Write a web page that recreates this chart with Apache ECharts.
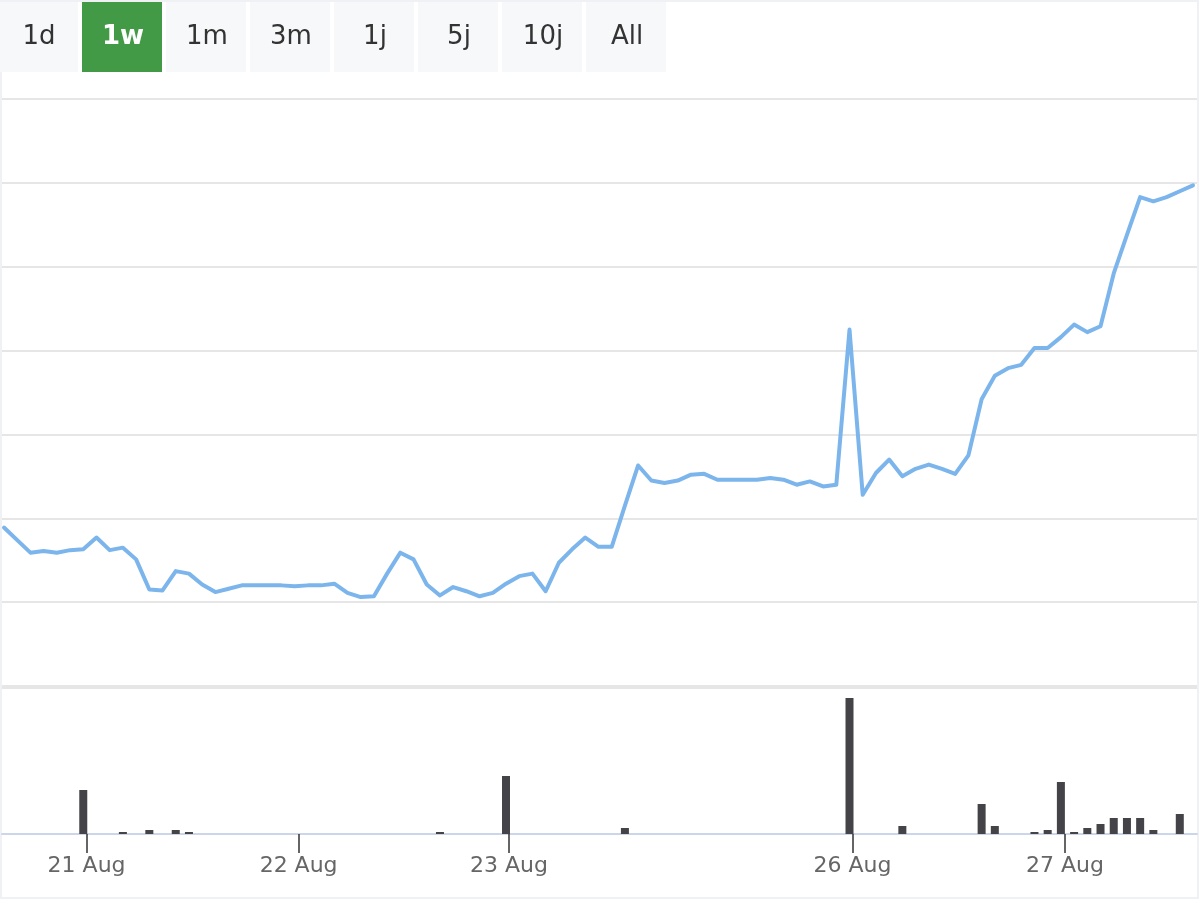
<!DOCTYPE html>
<html>
<head>
<meta charset="utf-8">
<script src="https://cdn.jsdelivr.net/npm/echarts@6/dist/echarts.min.js"></script>
<style>
html,body{margin:0;padding:0;background:#fff;}
#chart{width:1200px;height:900px;}
</style>
</head>
<body>
<div id="chart"></div>
<script>
// Range selector buttons
const buttonLabels = ['1d', '1w', '1m', '3m', '1j', '5j', '10j', 'All'];
const activeButton = '1w';

// Ordinal x axis: one slot per data point (index 0..90); day labels sit between points
const tickPositions = [6.25, 22.3, 38.22, 64.23, 80.31];
const tickLabels = ['21 Aug', '22 Aug', '23 Aug', '26 Aug', '27 Aug'];

// Price (relative units; one gridline step = 1)
const prices = [
  1.89, 1.74, 1.59, 1.61, 1.59, 1.62, 1.63, 1.77, 1.62, 1.65,
  1.51, 1.15, 1.14, 1.37, 1.34, 1.21, 1.12, 1.16, 1.20, 1.20,
  1.20, 1.20, 1.19, 1.20, 1.20, 1.22, 1.11, 1.06, 1.07, 1.34,
  1.59, 1.51, 1.21, 1.08, 1.18, 1.13, 1.07, 1.11, 1.22, 1.31,
  1.34, 1.13, 1.47, 1.63, 1.77, 1.66, 1.66, 2.15, 2.63, 2.45,
  2.42, 2.45, 2.52, 2.53, 2.46, 2.46, 2.46, 2.46, 2.48, 2.46,
  2.40, 2.44, 2.38, 2.40, 4.25, 2.28, 2.54, 2.70, 2.50, 2.59,
  2.64, 2.59, 2.53, 2.75, 3.42, 3.70, 3.79, 3.83, 4.03, 4.03,
  4.16, 4.31, 4.22, 4.29, 4.92, 5.38, 5.83, 5.78, 5.83, 5.90,
  5.97
];

// Volume (relative units)
const volumes = [
  0, 0, 0, 0, 0, 0, 44, 0, 0, 2,
  0, 4, 0, 4, 2, 0, 0, 0, 0, 0,
  0, 0, 0, 0, 0, 0, 0, 0, 0, 0,
  0, 0, 0, 2, 0, 0, 0, 0, 58, 0,
  0, 0, 0, 0, 0, 0, 0, 6, 0, 0,
  0, 0, 0, 0, 0, 0, 0, 0, 0, 0,
  0, 0, 0, 0, 136, 0, 0, 0, 8, 0,
  0, 0, 0, 0, 30, 8, 0, 0, 2, 4,
  52, 2, 6, 10, 16, 16, 16, 4, 0, 20,
  0
];

const priceData = prices.map((v, i) => [i, v]);
const volumeData = volumes.map((v, i) => [i, v]).filter(d => d[1] > 0);

const xMin = -0.1514, xMax = 90.303;

const graphics = [
  {
    type: 'rect', z: 0,
    shape: { x: 1, y: 1, width: 1197, height: 897 },
    style: { fill: 'none', stroke: '#f0f1f4', lineWidth: 2 },
    silent: true
  }
];
buttonLabels.forEach((lab, k) => {
  const active = lab === activeButton;
  graphics.push({
    type: 'rect', z: 10,
    shape: { x: -2 + 84 * k, y: 2, width: 80, height: 70 },
    style: { fill: active ? '#439a46' : '#f7f8fa' }
  });
  graphics.push({
    type: 'text', z: 11,
    x: 39 + 84 * k, y: 37,
    style: {
      text: lab,
      fill: active ? '#ffffff' : '#333333',
      font: (active ? 'bold ' : '') + '26px "DejaVu Sans"',
      align: 'center',
      verticalAlign: 'middle'
    }
  });
});

const chart = echarts.init(document.getElementById('chart'), null, { renderer: 'canvas' });
chart.setOption({
  animation: false,
  backgroundColor: '#ffffff',
  textStyle: { fontFamily: 'DejaVu Sans' },
  graphic: graphics,
  grid: [
    { left: 2, right: 3, top: 99, height: 587 },
    { left: 2, right: 3, top: 688, height: 146 }
  ],
  xAxis: [
    { type: 'value', gridIndex: 0, min: xMin, max: xMax, show: false },
    {
      type: 'value', gridIndex: 1, min: xMin, max: xMax,
      splitLine: { show: false },
      axisLine: { show: true, lineStyle: { color: '#ccd6eb', width: 2 } },
      axisTick: {
        show: true, customValues: tickPositions, length: 19,
        lineStyle: { color: '#333333', width: 1.5 }
      },
      axisLabel: {
        show: true, customValues: tickPositions, margin: 21,
        fontSize: 22, color: '#666666', fontFamily: 'DejaVu Sans',
        formatter: function (v) {
          let best = 0;
          tickPositions.forEach((p, j) => { if (Math.abs(p - v) < Math.abs(tickPositions[best] - v)) best = j; });
          return tickLabels[best];
        }
      }
    }
  ],
  yAxis: [
    {
      type: 'value', gridIndex: 0, min: 0, max: 7, interval: 1,
      axisLine: { show: false }, axisTick: { show: false }, axisLabel: { show: false },
      splitLine: { show: true, lineStyle: { color: '#e6e6e6', width: 2 } }
    },
    {
      type: 'value', gridIndex: 1, min: 0, max: 146, interval: 146,
      axisLine: { show: false }, axisTick: { show: false }, axisLabel: { show: false },
      splitLine: { show: true, lineStyle: { color: '#e6e6e6', width: 2 } }
    }
  ],
  series: [
    {
      type: 'line', xAxisIndex: 0, yAxisIndex: 0,
      data: priceData, showSymbol: false, symbol: 'none',
      lineStyle: { color: '#7cb5ec', width: 4, cap: 'round', join: 'round' },
      z: 5
    },
    {
      type: 'bar', xAxisIndex: 1, yAxisIndex: 1,
      data: volumeData, barWidth: 8,
      itemStyle: { color: '#434348' },
      z: 5
    }
  ]
});
</script>
</body>
</html>
